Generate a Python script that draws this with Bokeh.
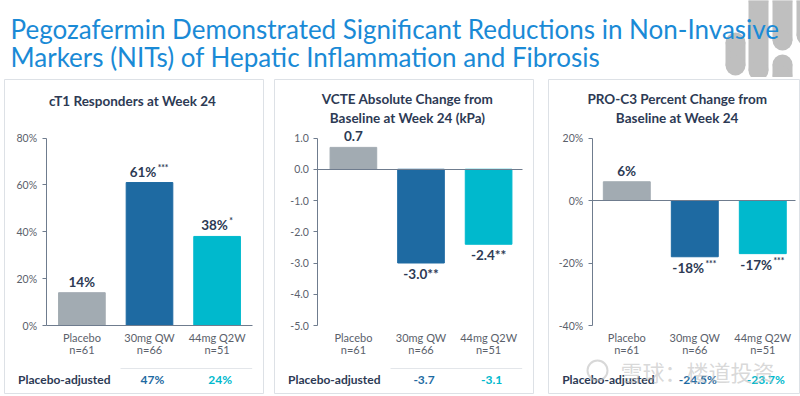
from bokeh.plotting import figure
from bokeh.layouts import column, row
from bokeh.models import Range1d, LinearAxis, FixedTicker, PrintfTickFormatter
from bokeh.core.properties import value
from bokeh.embed import file_html
from bokeh.resources import INLINE

# ---------------- data ----------------
title_lines = ["Pegozafermin Demonstrated Significant Reductions in Non-Invasive",
               "Markers (NITs) of Hepatic Inflammation and Fibrosis"]

categories = ["Placebo", "30mg QW", "44mg Q2W"]
n_patients = [61, 66, 51]
bar_colors = ["#a2abb2", "#1e6aa2", "#00b9cd"]
adjusted_label = "Placebo-adjusted"

ct1_title = ["cT1 Responders at Week 24"]
ct1_values = [14, 61, 38]
ct1_stars = ["", "***", "*"]
ct1_adjusted = [47, 24]
ct1_ticks = [0, 20, 40, 60, 80]

vcte_title = ["VCTE Absolute Change from", "Baseline at Week 24 (kPa)"]
vcte_values = [0.7, -3.0, -2.4]
vcte_stars = ["", "**", "**"]
vcte_adjusted = [-3.7, -3.1]
vcte_ticks = [1.0, 0.0, -1.0, -2.0, -3.0, -4.0, -5.0]

proc3_title = ["PRO-C3 Percent Change from", "Baseline at Week 24"]
proc3_values = [6, -18, -17]
proc3_stars = ["", "***", "***"]
proc3_adjusted = [-24.5, -23.7]
proc3_ticks = [20, 0, -20, -40]

watermark = "雪球：楼道投资"

# logo capsules (decoration): centre x, top y, bottom y in page pixels
logo_x = [735, 758, 782, 782, 806]
logo_top = [32, -10, -10, 54, -10]
logo_bot = [75, 80, 50, 86, 45]

# ---------------- styles ----------------
FONT = "Lato"
NAVY = "#2d3a54"
AXIS = "#6f7c8e"
TICK_TXT = "#5b616b"
BLUE_TITLE = "#1a8ad6"
PANEL_H = 319
FH = 314            # frame height (page y 79..393)
T_OFF, B_OFF = 58.5, 246.0   # pixel offsets of top/bottom ticks from frame top


def est_w(s, size):
    w = 0.0
    for ch in s:
        if ch.isdigit():
            w += 0.58
        elif ch == '%':
            w += 0.84
        elif ch == '-':
            w += 0.38
        elif ch == '.':
            w += 0.26
        elif ch == '*':
            w += 0.46
        else:
            w += 0.55
    return w * size


def make_panel(width, mb_left, mb_right, frame_left, c0, sp, axis_px, xend_px, sep_px,
               padj_px, title_cx, titles, values, stars, adjusted, ticks, tick_fmt,
               val_fmt, adj_fmt, superscript, show_sep=True, wm=None):
    fw = width - mb_left - mb_right
    ymax, ymin = max(ticks), min(ticks)
    s = (B_OFF - T_OFF) / (ymax - ymin)

    def X(px):
        return (px - c0) / sp

    def Y(off):
        return ymax - (off - T_OFF) / s

    p = figure(width=width, height=PANEL_H,
               x_range=Range1d(X(frame_left), X(frame_left + fw)),
               y_range=Range1d(Y(FH), Y(0)),
               output_backend="svg", toolbar_location=None,
               x_axis_location=None, y_axis_location=None,
               min_border_left=mb_left, min_border_right=mb_right,
               min_border_top=2, min_border_bottom=PANEL_H - 2 - FH)
    p.xgrid.grid_line_color = None
    p.ygrid.grid_line_color = None
    p.outline_line_color = "#dde1e6"
    p.outline_line_width = 1
    p.background_fill_color = "white"
    p.border_fill_color = "white"

    xs = list(range(len(categories)))

    # bars
    p.vbar(x=xs, top=values, bottom=0, width=0.69, color=bar_colors)

    # axes
    yax = LinearAxis(fixed_location=X(axis_px), bounds=(ymin, ymax),
                     ticker=FixedTicker(ticks=ticks),
                     formatter=PrintfTickFormatter(format=tick_fmt),
                     axis_line_color=AXIS, major_tick_line_color=AXIS,
                     major_tick_out=4, major_tick_in=0,
                     minor_tick_line_color=None,
                     major_label_text_font=FONT,
                     major_label_text_font_size="10.5px",
                     major_label_text_color=TICK_TXT,
                     major_label_standoff=5)
    p.add_layout(yax, "left")
    xax = LinearAxis(fixed_location=0, bounds=(X(axis_px), X(xend_px)),
                     ticker=FixedTicker(ticks=[]),
                     axis_line_color=AXIS, major_tick_line_color=None,
                     minor_tick_line_color=None,
                     major_label_text_font_size="0px")
    p.add_layout(xax, "below")

    # value labels
    size = 13.5
    mains = [val_fmt(v) for v in values]
    yoffs = [-11 if v >= 0 else 11 for v in values]
    if superscript:
        m_off, s_off = [], []
        for m, st in zip(mains, stars):
            wm_ = est_w(m, size)
            ws = est_w(st, 8.5)
            W = wm_ + ws + (1 if st else 0)
            m_off.append(-W / 2)
            s_off.append(-W / 2 + wm_ + 1)
        p.text(x=xs, y=values, text=mains, x_offset=m_off, y_offset=yoffs,
               text_align="left", text_baseline="middle",
               text_font=value(FONT), text_font_style="bold",
               text_font_size=f"{size}px", text_color=NAVY)
        p.text(x=xs, y=values, text=stars, x_offset=s_off,
               y_offset=[y - 4 for y in yoffs],
               text_align="left", text_baseline="middle",
               text_font=value(FONT), text_font_style="bold",
               text_font_size="8.5px", text_color=NAVY)
    else:
        p.text(x=xs, y=values, text=[m + st for m, st in zip(mains, stars)],
               y_offset=yoffs, text_align="center", text_baseline="middle",
               text_font=value(FONT), text_font_style="bold",
               text_font_size=f"{size}px", text_color=NAVY)

    # category labels
    p.text(x=xs, y=[Y(258)] * 3, text=categories, text_align="center",
           text_baseline="middle", text_font=value(FONT), text_font_size="11px",
           text_color=TICK_TXT)
    p.text(x=xs, y=[Y(270)] * 3, text=[f"n={n}" for n in n_patients],
           text_align="center", text_baseline="middle", text_font=value(FONT),
           text_font_size="11px", text_color=TICK_TXT)

    if show_sep:
        p.segment(x0=[X(sep_px)], x1=[X(xend_px)], y0=[Y(289)], y1=[Y(289)],
                  line_color="#e3e6ea", line_width=1)

    # placebo-adjusted row
    p.text(x=[X(padj_px)], y=[Y(300)], text=[adjusted_label], text_align="left",
           text_baseline="middle", text_font=value(FONT), text_font_style="bold",
           text_font_size="12px", text_color=NAVY)
    p.text(x=xs[1:], y=[Y(300)] * len(adjusted), text=[adj_fmt(a) for a in adjusted],
           x_offset=3, text_align="center", text_baseline="middle",
           text_font=value(FONT), text_font_style="bold", text_font_size="12px",
           text_color=bar_colors[1:])

    # panel title
    offs = [21] if len(titles) == 1 else [19.5, 38]
    p.text(x=[X(title_cx)] * len(titles), y=[Y(o) for o in offs], text=titles,
           text_align="center", text_baseline="middle", text_font=value(FONT),
           text_font_style="bold", text_font_size="13.5px", text_color=NAVY)

    if wm is not None:
        p.text(x=[X(620)], y=[Y(291)], text=[wm], text_align="left",
               text_baseline="middle", text_font=value("Noto Sans CJK SC"),
               text_font_size="22px", text_color="#b8b8b8", text_alpha=0.55)
        p.scatter(x=[X(597)], y=[Y(291)], size=20, marker="circle",
                  fill_color=None, line_color="#b8b8b8", line_alpha=0.55, line_width=2)
    return p


p1 = make_panel(268, 4, 5, 4, 81.4, 67.6, 45.6, 251.7, 120, 17.6, 132,
                ct1_title, ct1_values, ct1_stars, ct1_adjusted, ct1_ticks, "%d%%",
                lambda v: f"{v:.0f}%", lambda a: f"{a:.0f}%", True)
p2 = make_panel(272, 6, 7, 274, 352.9, 67.6, 317.3, 521.7, 390, 287.6, 407,
                vcte_title, vcte_values, vcte_stars, vcte_adjusted, vcte_ticks, "%.1f",
                lambda v: f"{v:.1f}", lambda a: f"{a:.1f}", False)
p3 = make_panel(260, 8, 1, 548, 626.3, 68.0, 591.7, 795, 390, 561.7, 676.7,
                proc3_title, proc3_values, proc3_stars, proc3_adjusted, proc3_ticks, "%d%%",
                lambda v: f"{v:.0f}%", lambda a: f"{a:.1f}%", True,
                show_sep=False, wm=watermark)

# ---------------- title strip ----------------
t = figure(width=800, height=77, x_range=Range1d(0, 800), y_range=Range1d(77, 0),
           output_backend="svg", toolbar_location=None,
           x_axis_location=None, y_axis_location=None, min_border=0)
t.xgrid.grid_line_color = None
t.ygrid.grid_line_color = None
t.outline_line_color = None
t.background_fill_color = "white"
t.border_fill_color = "white"

LOGO = "#bfbfbf"
t.rect(x=logo_x, y=[(a + b) / 2 for a, b in zip(logo_top, logo_bot)], width=20,
       height=[b - a - 20 for a, b in zip(logo_top, logo_bot)],
       fill_color=LOGO, line_color=None)
t.circle(x=logo_x + logo_x, y=[a + 10 for a in logo_top] + [b - 10 for b in logo_bot],
         radius=10, fill_color=LOGO, line_color=None)

t.text(x=[10, 10], y=[28, 56], text=title_lines, text_align="left",
       text_baseline="alphabetic", text_font=value(FONT), text_font_size="26px",
       text_color=BLUE_TITLE)

layout = column(t, row(p1, p2, p3, spacing=0), spacing=0)

with open("out.html", "w") as f:
    f.write(file_html(layout, INLINE))
